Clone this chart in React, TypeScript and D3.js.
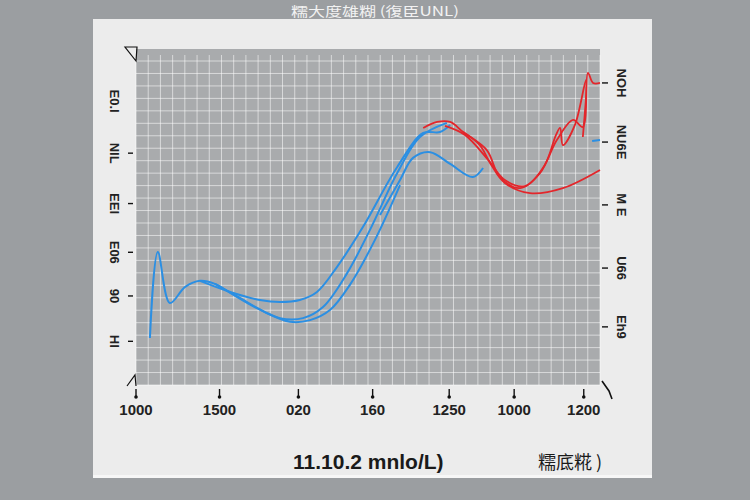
import React from "react";
import * as d3 from "d3";

const W = 750, H = 500;
const titleText = "糯大度雄糊 (復臣UNL)";
const xLabelMain = "11.10.2 mnlo/L)";
const xLabelSide = "糯底糀 )";

const xTickPos = [0, 18, 35, 51, 67.5, 81.5, 96.5];
const xTickLabels = ["1000", "1500", "020", "160", "1250", "1000", "1200"];
const leftTickPos = [84.5, 69, 54, 39.5, 26.5, 13];
const leftTickLabels = ["E0.I", "NIL", "EEI", "E06", "90", "HI"];
const leftTickShown = [false, true, true, true, true, true];
const rightTickPos = [89.9, 72.3, 53.6, 34.8, 17.3];
const rightTickLabels = ["NOH", "NU6E", "M E", "U66", "Eh9"];

const blueA_x = [3.0, 4.7, 7.3, 10.6, 13.8, 17.0, 20.3, 25.6, 31.0, 36.0, 40.3, 45.5, 50.4, 56.3, 61.2, 67.0];
const blueA_y = [14.0, 39.6, 24.4, 29.2, 31.0, 30.1, 27.4, 23.2, 19.9, 19.9, 23.2, 33.3, 46.1, 63.1, 73.8, 78.0];
const blueB_x = [13.8, 20.3, 26.7, 31.0, 35.3, 39.0, 43.3, 48.9, 56.3, 61.9, 65.5, 67.7];
const blueB_y = [31.0, 27.7, 25.3, 24.7, 25.3, 27.7, 35.1, 47.0, 64.9, 75.0, 75.3, 77.4];
const blueC_x = [52.6, 56.9, 59.7, 63.4, 67.7, 72.6, 74.8];
const blueC_y = [50.6, 61.0, 67.6, 69.3, 65.8, 61.9, 64.6];
const blueD_x = [17.0, 22.4, 27.8, 33.2, 37.5, 41.8, 46.1, 51.5, 56.9];
const blueD_y = [30.1, 25.9, 21.7, 18.8, 19.3, 22.3, 29.8, 43.2, 59.5];
const blueE_x = [98.3, 100];
const blueE_y = [72.6, 72.9];

const red1_x = [61.9, 64.9, 67.7, 70.5, 75.6, 78.4, 82.8, 87.1, 90.7, 94.2, 96.3, 97.4, 98.5, 100];
const red1_y = [76.5, 78.3, 78.3, 75.3, 69.9, 61.9, 58.6, 63.1, 72.9, 78.9, 76.8, 92.9, 89.9, 89.9];
const red2_x = [70.5, 74.1, 76.3, 79.5, 84.9, 92.0, 100];
const red2_y = [75.3, 71.4, 66.1, 60.1, 57.1, 58.6, 64.0];
const red3_x = [66.6, 70.9, 75.9, 79.5, 83.8, 88.1, 90.5, 91.4, 92.0, 94.6, 97.0, 96.3];
const red3_y = [77.1, 74.4, 67.0, 61.0, 59.2, 65.5, 74.4, 76.5, 71.4, 77.4, 90.8, 73.8];

const blueSeries = [[blueA_x, blueA_y], [blueB_x, blueB_y], [blueC_x, blueC_y], [blueD_x, blueD_y], [blueE_x, blueE_y]];
const redSeries = [[red1_x, red1_y], [red2_x, red2_y], [red3_x, red3_y]];

export default function App() {
  const L = 136, R = 600, T = 49, B = 385;
  const x = d3.scaleLinear().domain([0, 100]).range([L, R]);
  const y = d3.scaleLinear().domain([0, 100]).range([B, T]);
  const gx = d3.scaleLinear().domain([0, 38]).range([L, R]);
  const gy = d3.scaleLinear().domain([0, 26]).range([B, 61]);
  const line = d3.line<[number, number]>().x(d => x(d[0])).y(d => y(d[1])).curve(d3.curveCatmullRom.alpha(0.5));
  const toPts = (xs: number[], ys: number[]) => xs.map((v, i) => [v, ys[i]] as [number, number]);
  const font = "'Liberation Sans', Arial, sans-serif";

  return (
    <svg width={W} height={H} style={{ position: "absolute", left: 0, top: 0 }}>
      <rect x={0} y={0} width={W} height={H} fill="#9b9ea1" />
      <text x={375} y={10} textAnchor="middle" dominantBaseline="central" fontSize={13} textLength={168} lengthAdjust="spacingAndGlyphs" fill="#f2f2f2" fontFamily="'Noto Sans CJK SC', sans-serif">{titleText}</text>
      <rect x={93} y={19} width={559} height={458} fill="#ececec" />
      <rect x={93} y={475} width={559} height={3} fill="#f7f7f7" />
      <rect x={L} y={T} width={R - L} height={B - T} fill="#a9abad" />
      {d3.range(0, 39).map(i => (
        <line key={"v" + i} x1={gx(i)} x2={gx(i)} y1={T + 6} y2={B} stroke="#ffffff" strokeOpacity={0.55} strokeWidth={1} />
      ))}
      {d3.range(0, 27).map(i => (
        <line key={"h" + i} x1={L} x2={R} y1={gy(i)} y2={gy(i)} stroke="#ffffff" strokeOpacity={0.55} strokeWidth={1} />
      ))}
      {blueSeries.map((s, i) => (
        <path key={"b" + i} d={line(toPts(s[0], s[1])) || ""} fill="none" stroke="#2b8fe3" strokeWidth={2} strokeLinejoin="round" />
      ))}
      {redSeries.map((s, i) => (
        <path key={"r" + i} d={line(toPts(s[0], s[1])) || ""} fill="none" stroke="#e3262b" strokeWidth={1.8} strokeLinejoin="round" />
      ))}
      <path d={`M${L - 11},${T - 2} L${L + 1},${T - 2} L${L},${T + 12} Z`} fill="none" stroke="#111" strokeWidth={1.2} />
      <path d={`M${L - 9},${B + 1} L${L - 1},${B - 10} L${L},${B + 1}`} fill="none" stroke="#111" strokeWidth={1.2} />
      <path d={`M${R + 2},${B - 4} L${R + 9},${B + 6} L${R + 12},${B + 14}`} fill="none" stroke="#111" strokeWidth={1.6} />
      {leftTickPos.map((v, i) => (
        <g key={"lt" + i} transform={`translate(0,${y(v)})`}>
          {leftTickShown[i] && <line x1={L - 8} x2={L - 3} y1={0} y2={0} stroke="#111" strokeWidth={1.4} />}
          <text transform={`translate(${113},0) rotate(90)`} textAnchor="middle" dominantBaseline="middle" fontSize={13} fontWeight="bold" fill="#222" fontFamily={font}>{leftTickLabels[i]}</text>
        </g>
      ))}
      {rightTickPos.map((v, i) => (
        <g key={"rt" + i} transform={`translate(0,${y(v)})`}>
          <line x1={R + 2} x2={R + 8} y1={0} y2={0} stroke="#111" strokeWidth={1.4} />
          <text transform={`translate(${620},0) rotate(90)`} textAnchor="middle" dominantBaseline="middle" fontSize={13} fontWeight="bold" fill="#222" fontFamily={font}>{rightTickLabels[i]}</text>
        </g>
      ))}
      {xTickPos.map((v, i) => (
        <g key={"xt" + i} transform={`translate(${x(v)},0)`}>
          <line x1={0} x2={0} y1={B + 4} y2={B + 12} stroke="#111" strokeWidth={1.4} />
          <circle cx={0} cy={B + 12} r={1.8} fill="#111" />
          <text x={0} y={B + 30} textAnchor="middle" fontSize={15} fontWeight="bold" fill="#222" fontFamily={font}>{xTickLabels[i]}</text>
        </g>
      ))}
      <text x={293} y={469} fontSize={21} fontWeight="bold" fill="#1a1a1a" fontFamily={font}>{xLabelMain}</text>
      <text x={538} y={469} fontSize={18} fill="#1a1a1a" fontFamily="'Noto Sans CJK SC', sans-serif">{xLabelSide}</text>
    </svg>
  );
}
